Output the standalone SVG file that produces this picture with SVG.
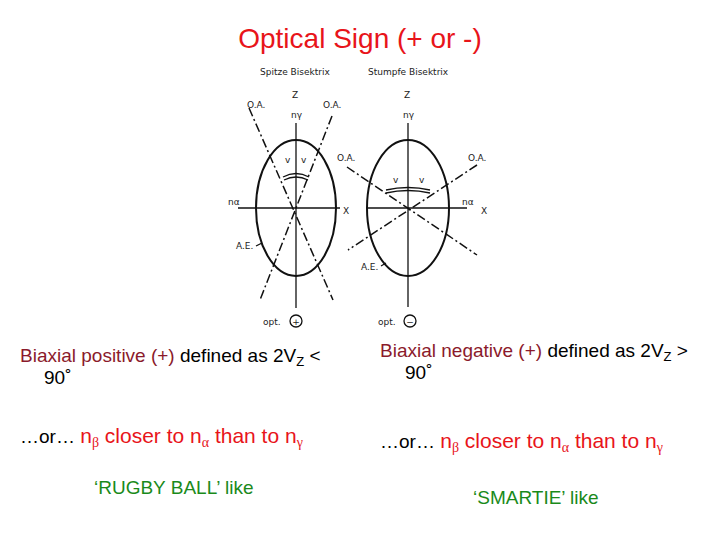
<svg xmlns="http://www.w3.org/2000/svg" width="720" height="540" viewBox="0 0 720 540">
<style>
.f{fill:none;stroke:#111;stroke-width:2}
.l{stroke:#111;stroke-width:1.3}
.d{stroke:#111;stroke-width:1.5;stroke-dasharray:9 3 2 3}
.s{font-family:"DejaVu Sans",sans-serif;font-size:9px;fill:#222}
.m{font-family:"Liberation Sans",Arial,sans-serif;font-size:19px}
.g{font-family:"Liberation Serif",serif}
</style>
<rect width="720" height="540" fill="#fff"/>
<text x="360" y="48" text-anchor="middle" font-family="Liberation Sans,Arial,sans-serif" font-size="28" fill="#e8141a">Optical Sign (+ or -)</text>
<g id="left">
<text class="s" x="260" y="75">Spitze Bisektrix</text>
<text class="s" x="292" y="98" font-size="13">Z</text>
<text class="s" x="247" y="108">O.A.</text>
<text class="s" x="323" y="108">O.A.</text>
<text class="s" x="291" y="118">nγ</text>
<ellipse class="f" cx="296" cy="208" rx="40" ry="68"/>
<line class="l" x1="296" y1="123" x2="296" y2="308"/>
<line class="l" x1="238" y1="208" x2="340" y2="208"/>
<text class="s" x="343" y="214" font-size="13">X</text>
<text class="s" x="228" y="205">nα</text>
<line class="d" x1="249" y1="108" x2="333" y2="300"/>
<line class="d" x1="332" y1="116" x2="260" y2="300"/>
<path class="l" fill="none" d="M283 177 Q296 170 309 177 M284 180 Q296 174 308 180"/>
<text class="s" x="285" y="163">v</text>
<text class="s" x="301" y="163">v</text>
<text class="s" x="236" y="249">A.E.</text>
<line class="l" x1="256" y1="246" x2="262" y2="243"/>
<text class="s" x="263" y="325" font-size="10">opt.</text>
<circle class="l" fill="none" cx="296" cy="321" r="6"/>
<text class="s" x="296" y="325" text-anchor="middle" font-size="10">+</text>
</g>
<g id="right">
<text class="s" x="368" y="75">Stumpfe Bisektrix</text>
<text class="s" x="404" y="98" font-size="13">Z</text>
<text class="s" x="403" y="118">nγ</text>
<ellipse class="f" cx="408" cy="208" rx="41" ry="68"/>
<line class="l" x1="408" y1="123" x2="408" y2="307"/>
<line class="l" x1="367" y1="208" x2="467" y2="208"/>
<text class="s" x="462" y="205">nα</text>
<text class="s" x="481" y="214" font-size="13">X</text>
<text class="s" x="337" y="161">O.A.</text>
<text class="s" x="468" y="161">O.A.</text>
<line class="d" x1="347" y1="167" x2="477" y2="255"/>
<line class="d" x1="477" y1="165" x2="348" y2="250"/>
<path class="l" fill="none" d="M386 190 Q408 185 430 190 M386 193 Q408 188 430 193"/>
<text class="s" x="393" y="183">v</text>
<text class="s" x="419" y="183">v</text>
<text class="s" x="361" y="270">A.E.</text>
<line class="l" x1="381" y1="266" x2="386" y2="263"/>
<text class="s" x="378" y="325" font-size="10">opt.</text>
<circle class="l" fill="none" cx="410" cy="321" r="6"/>
<text class="s" x="410" y="325" text-anchor="middle" font-size="10">−</text>
</g>
<g id="texts" class="m">
<text x="20" y="362"><tspan fill="#8b1a2b">Biaxial positive (+)</tspan> defined as 2V<tspan font-size="13" dy="4">Z</tspan><tspan dy="-4"> &lt;</tspan></text>
<text x="44" y="384">90˚</text>
<text x="380" y="357"><tspan fill="#8b1a2b">Biaxial negative (+)</tspan> defined as 2V<tspan font-size="13" dy="4">Z</tspan><tspan dy="-4"> &gt;</tspan></text>
<text x="405" y="379">90˚</text>
<text x="20" y="443">…or… <tspan fill="#e8141a" font-size="21">n<tspan class="g" font-size="14" dy="4">β</tspan><tspan dy="-4"> closer to n</tspan><tspan class="g" font-size="14" dy="4">α</tspan><tspan dy="-4"> than to n</tspan><tspan class="g" font-size="14" dy="4">γ</tspan></tspan></text>
<text x="380" y="448">…or… <tspan fill="#e8141a" font-size="21">n<tspan class="g" font-size="14" dy="4">β</tspan><tspan dy="-4"> closer to n</tspan><tspan class="g" font-size="14" dy="4">α</tspan><tspan dy="-4"> than to n</tspan><tspan class="g" font-size="14" dy="4">γ</tspan></tspan></text>
<text x="94" y="494" fill="#1a8a1a">‘RUGBY BALL’ like</text>
<text x="473" y="504" fill="#1a8a1a">‘SMARTIE’ like</text>
</g>
</svg>
